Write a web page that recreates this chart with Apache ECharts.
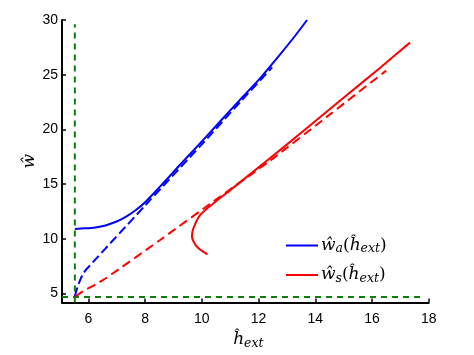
<!DOCTYPE html>
<html>
<head>
<meta charset="utf-8">
<script src="https://cdn.jsdelivr.net/npm/echarts@6/dist/echarts.min.js"></script>
<style>
html,body{margin:0;padding:0;background:#fff;}
#c{width:474px;height:355px;}
</style>
</head>
<body>
<div id="c"></div>
<script>
// ---- data ----
var xTicks = [6, 8, 10, 12, 14, 16, 18];
var yTicks = [5, 10, 15, 20, 25, 30];

var waSolidX = [5.52, 5.89, 6.25, 6.60, 6.95, 7.30, 7.66, 8.01, 8.54, 9.24, 9.95, 10.65, 11.35, 12.06, 12.76, 13.29, 13.71];
var waSolidY = [10.89, 10.94, 11.03, 11.21, 11.52, 11.97, 12.60, 13.36, 14.80, 16.78, 18.76, 20.74, 22.72, 24.69, 26.85, 28.56, 30.0];

var waDashX = [5.52, 5.61, 5.72, 5.82, 5.96, 8.18, 9.95, 11.35, 12.48];
var waDashY = [4.73, 5.54, 6.30, 6.84, 7.29, 13.54, 18.49, 22.49, 25.68];

var wsSolidX = [10.20, 9.87, 9.70, 9.65, 9.70, 9.95, 10.47, 11.00, 12.41, 13.47, 14.88, 16.29, 17.34];
var wsSolidY = [8.57, 9.14, 9.77, 10.22, 10.94, 12.19, 13.36, 14.44, 17.37, 19.61, 22.63, 25.64, 27.93];

var wsDashX = [5.54, 5.72, 5.93, 6.25, 6.60, 8.54, 10.65, 12.41, 14.52, 16.50];
var wsDashY = [4.73, 5.04, 5.36, 5.81, 6.35, 9.90, 13.86, 17.14, 21.37, 25.37];

var vLineX = [5.52, 5.52];
var vLineY = [4.15, 29.6];
var hLineX = [5.067, 17.84];
var hLineY = [4.67, 4.67];

function zip(xs, ys) { return xs.map(function (x, i) { return [x, ys[i]]; }); }

var serif = 'DejaVu Serif';
var rich = {
  m: { fontFamily: serif, fontStyle: 'italic', fontSize: 17, lineHeight: 20, verticalAlign: 'middle', color: '#000' },
  r: { fontFamily: serif, fontSize: 17, lineHeight: 20, verticalAlign: 'middle', color: '#000' },
  s: { fontFamily: serif, fontStyle: 'italic', fontSize: 12.5, lineHeight: 8, verticalAlign: 'bottom', color: '#000' }
};

var chart = echarts.init(document.getElementById('c'), null, { renderer: 'canvas' });
chart.setOption({
  animation: false,
  backgroundColor: '#fff',
  grid: { left: 62, right: 45.3, top: 20, bottom: 47.5, containLabel: false },
  xAxis: {
    type: 'value', min: 5.067, max: 18,
    axisLine: { show: true, onZero: false, lineStyle: { color: '#000', width: 2 } },
    axisTick: { show: true, inside: true, length: 4, customValues: xTicks, lineStyle: { color: '#000', width: 1.5 } },
    axisLabel: { customValues: xTicks, color: '#000', fontFamily: 'Liberation Sans', fontSize: 14, margin: 10 },
    splitLine: { show: false },
    name: '{m|ĥ}{s|ext}', nameLocation: 'middle', nameGap: 27,
    nameTextStyle: { rich: rich, padding: [0, 0, 0, 6] }
  },
  yAxis: {
    type: 'value', min: 4.15, max: 30,
    axisLine: { show: true, onZero: false, lineStyle: { color: '#000', width: 2 } },
    axisTick: { show: true, inside: true, length: 4, customValues: yTicks, lineStyle: { color: '#000', width: 1.5 } },
    axisLabel: { customValues: yTicks, color: '#000', fontFamily: 'Liberation Sans', fontSize: 14, margin: 4 },
    splitLine: { show: false },
    name: '{m|ŵ}', nameLocation: 'middle', nameGap: 22, nameMoveOverlap: false,
    nameTextStyle: { rich: rich }
  },
  legend: {
    orient: 'vertical', left: 281, top: 232, itemWidth: 32, itemHeight: 2, itemGap: 11,
    icon: 'rect',
    data: ['wa', 'ws'],
    formatter: function (n) {
      return n === 'wa' ? '{m|ŵ}{s|a}{r|(}{m|ĥ}{s|ext}{r|)}' : '{m|ŵ}{s|s}{r|(}{m|ĥ}{s|ext}{r|)}';
    },
    textStyle: { rich: rich, padding: [0, 0, 0, -2] },
    backgroundColor: 'rgba(255,255,255,0)'
  },
  series: [
    { name: 'green-v', type: 'line', data: zip(vLineX, vLineY), symbol: 'none', silent: true,
      lineStyle: { color: '#0a800a', width: 2, type: [6, 5] } },
    { name: 'green-h', type: 'line', data: zip(hLineX, hLineY), symbol: 'none', silent: true,
      lineStyle: { color: '#0a800a', width: 2, type: [6, 5] } },
    { name: 'wa-dash', type: 'line', data: zip(waDashX, waDashY), symbol: 'none', smooth: 0.15,
      lineStyle: { color: '#0000ff', width: 2, type: [9, 4] } },
    { name: 'ws-dash', type: 'line', data: zip(wsDashX, wsDashY), symbol: 'none', smooth: 0.2,
      lineStyle: { color: '#ff0000', width: 2, type: [9, 5] } },
    { name: 'wa', type: 'line', data: zip(waSolidX, waSolidY), symbol: 'none', smooth: 0.3,
      lineStyle: { color: '#0000ff', width: 2 }, itemStyle: { color: '#0000ff' } },
    { name: 'ws', type: 'line', data: zip(wsSolidX, wsSolidY), symbol: 'none', smooth: 0.3,
      lineStyle: { color: '#ff0000', width: 2 }, itemStyle: { color: '#ff0000' } }
  ]
});
</script>
</body>
</html>
